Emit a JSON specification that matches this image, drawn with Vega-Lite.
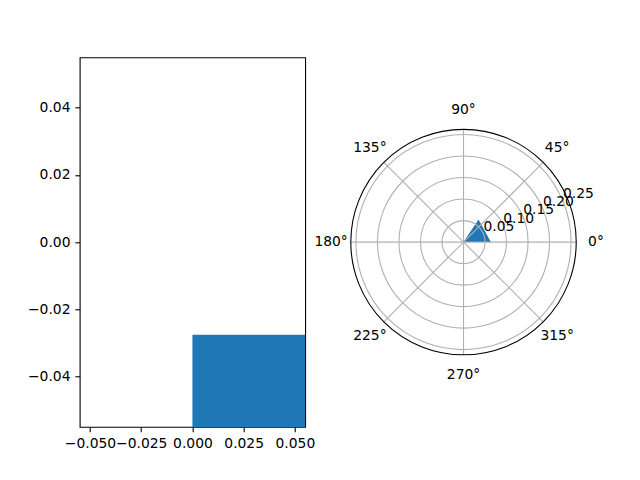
{
  "$schema": "https://vega.github.io/schema/vega-lite/v6.json",
  "padding": {"left": 26.7, "top": 56.3, "right": 0, "bottom": 0},
  "bounds": "flush",
  "spacing": 45.1,
  "config": {
    "font": "DejaVu Sans",
    "view": {"stroke": "black", "strokeWidth": 1.1},
    "axis": {
      "domain": false,
      "grid": false,
      "ticks": true,
      "tickSize": 4.86,
      "tickWidth": 1.1,
      "tickColor": "black",
      "labelFont": "DejaVu Sans",
      "labelFontSize": 13.9,
      "labelColor": "black",
      "labelPadding": 4.86,
      "labelFlush": false,
      "labelOverlap": false,
      "labelBound": false,
      "title": null
    },
    "text": {"font": "DejaVu Sans", "fontSize": 13.9, "color": "black"}
  },
  "hconcat": [
    {
      "width": 225.45,
      "height": 369.6,
      "data": {"values": [{"x0": 0, "x1": 0.8, "y0": -0.0276, "y1": -1}]},
      "mark": {"type": "rect", "clip": true, "color": "#1f77b4"},
      "encoding": {
        "x": {
          "field": "x0",
          "type": "quantitative",
          "scale": {"domain": [-0.055, 0.055], "nice": false, "zero": false},
          "axis": {"values": [-0.05, -0.025, 0, 0.025, 0.05], "format": ".3f"}
        },
        "x2": {"field": "x1"},
        "y": {
          "field": "y0",
          "type": "quantitative",
          "scale": {"domain": [-0.055, 0.055], "nice": false, "zero": false},
          "axis": {"values": [-0.04, -0.02, 0, 0.02, 0.04], "format": ".2f"}
        },
        "y2": {"field": "y1"}
      }
    },
    {
      "width": 225.45,
      "height": 369.6,
      "view": {"stroke": null},
      "layer": [
        {
          "data": {"values": [
            {"x": 0, "y": 0},
            {"x": 0.0349, "y": 0.0523},
            {"x": 0.0635, "y": 0}
          ]},
          "mark": {"type": "area", "color": "#1f77b4", "interpolate": "linear"},
          "encoding": {
            "x": {"field": "x", "type": "quantitative", "scale": {"domain": [-0.262, 0.262], "nice": false, "zero": false}, "axis": null},
            "y": {"field": "y", "type": "quantitative", "scale": {"domain": [-0.42952, 0.42952], "nice": false, "zero": false}, "axis": null},
            "y2": {"datum": 0}
          }
        },
        {
          "data": {"values": [
            {"x": 0, "y": 0, "ex": 0.262, "ey": 0},
            {"x": 0, "y": 0, "ex": 0.18526, "ey": 0.18526},
            {"x": 0, "y": 0, "ex": 0, "ey": 0.262},
            {"x": 0, "y": 0, "ex": -0.18526, "ey": 0.18526},
            {"x": 0, "y": 0, "ex": -0.262, "ey": 0},
            {"x": 0, "y": 0, "ex": -0.18526, "ey": -0.18526},
            {"x": 0, "y": 0, "ex": 0, "ey": -0.262},
            {"x": 0, "y": 0, "ex": 0.18526, "ey": -0.18526}
          ]},
          "mark": {"type": "rule", "color": "#b0b0b0", "strokeWidth": 1.1},
          "encoding": {
            "x": {"field": "x", "type": "quantitative", "scale": {"domain": [-0.262, 0.262], "nice": false, "zero": false}, "axis": null},
            "y": {"field": "y", "type": "quantitative", "scale": {"domain": [-0.42952, 0.42952], "nice": false, "zero": false}, "axis": null},
            "x2": {"field": "ex"},
            "y2": {"field": "ey"}
          }
        },
        {
          "data": {"values": [
            {"r": 0.05, "kind": "grid"},
            {"r": 0.1, "kind": "grid"},
            {"r": 0.15, "kind": "grid"},
            {"r": 0.2, "kind": "grid"},
            {"r": 0.25, "kind": "grid"},
            {"r": 0.262, "kind": "spine"}
          ]},
          "mark": {"type": "arc", "theta": 0, "theta2": 6.2832, "filled": false, "strokeWidth": 1.1},
          "encoding": {
            "radius": {"field": "r", "type": "quantitative", "stack": null, "scale": {"type": "linear", "domain": [0, 0.262], "range": [0, 112.725], "zero": true, "nice": false}},
            "stroke": {"field": "kind", "type": "nominal", "scale": {"domain": ["grid", "spine"], "range": ["#b0b0b0", "black"]}, "legend": null}
          }
        },
        {
          "data": {"values": [
            {"x": 0.3078, "y": 0, "label": "0°"},
            {"x": 0.2176, "y": 0.2176, "label": "45°"},
            {"x": 0, "y": 0.3078, "label": "90°"},
            {"x": -0.2176, "y": 0.2176, "label": "135°"},
            {"x": -0.3078, "y": 0, "label": "180°"},
            {"x": -0.2176, "y": -0.2176, "label": "225°"},
            {"x": 0, "y": -0.3078, "label": "270°"},
            {"x": 0.2176, "y": -0.2176, "label": "315°"}
          ]},
          "mark": {"type": "text", "align": "center", "baseline": "middle"},
          "encoding": {
            "x": {"field": "x", "type": "quantitative", "scale": {"domain": [-0.262, 0.262], "nice": false, "zero": false}, "axis": null},
            "y": {"field": "y", "type": "quantitative", "scale": {"domain": [-0.42952, 0.42952], "nice": false, "zero": false}, "axis": null},
            "text": {"field": "label"}
          }
        },
        {
          "data": {"values": [
            {"x": 0.04619, "y": 0.01913, "label": "0.05"},
            {"x": 0.09239, "y": 0.03827, "label": "0.10"},
            {"x": 0.13858, "y": 0.0574, "label": "0.15"},
            {"x": 0.18478, "y": 0.07654, "label": "0.20"},
            {"x": 0.23097, "y": 0.09567, "label": "0.25"}
          ]},
          "mark": {"type": "text", "align": "left", "baseline": "bottom"},
          "encoding": {
            "x": {"field": "x", "type": "quantitative", "scale": {"domain": [-0.262, 0.262], "nice": false, "zero": false}, "axis": null},
            "y": {"field": "y", "type": "quantitative", "scale": {"domain": [-0.42952, 0.42952], "nice": false, "zero": false}, "axis": null},
            "text": {"field": "label"}
          }
        }
      ]
    }
  ]
}
